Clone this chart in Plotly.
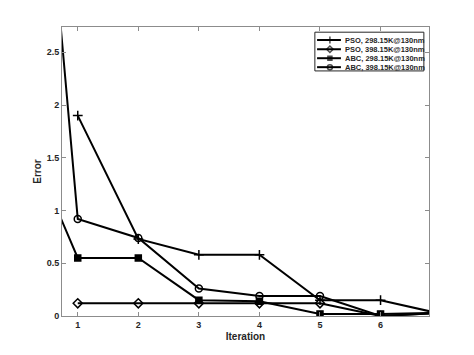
import plotly.graph_objects as go

iterations = [1, 2, 3, 4, 5, 6, 7]
pso_298 = [1.90, 0.73, 0.58, 0.58, 0.15, 0.15, 0.02]
pso_398 = [0.12, 0.12, 0.12, 0.12, 0.12, 0.00, 0.03]
abc_iter = [0, 1, 2, 3, 4, 5, 6, 7]
abc_298 = [1.90, 0.55, 0.55, 0.15, 0.14, 0.02, 0.02, 0.03]
abc_398 = [7.40, 0.92, 0.74, 0.26, 0.19, 0.19, 0.00, 0.03]
series_names = ["PSO, 298.15K@130nm", "PSO, 398.15K@130nm",
                "ABC, 298.15K@130nm", "ABC, 398.15K@130nm"]

styles = [("cross-thin-open", 7), ("diamond-open", 7), ("square", 6), ("circle-open", 7)]
data = [(iterations, pso_298), (iterations, pso_398), (abc_iter, abc_298), (abc_iter, abc_398)]

FONT = "Liberation Sans, Arial"
fig = go.Figure()
for name, (xs, ys), (sym, sz) in zip(series_names, data, styles):
    fig.add_trace(go.Scatter(
        x=xs, y=ys, name=name, mode="lines+markers", showlegend=False,
        line=dict(color="black", width=2),
        marker=dict(symbol=sym, size=sz, color="black",
                    line=dict(color="black", width=1.5)),
    ))

# --- hand-drawn compact legend (MATLAB style) in paper coordinates ---
leg_x0, leg_x1, leg_y0, leg_y1 = 0.689, 0.986, 0.848, 0.982
row_y = [0.955, 0.923, 0.892, 0.861]
line_x0, line_x1, mark_x, text_x = 0.695, 0.760, 0.730, 0.766

fig.add_shape(type="rect", xref="paper", yref="paper", x0=leg_x0, x1=leg_x1,
              y0=leg_y0, y1=leg_y1, line=dict(color="#262626", width=1),
              fillcolor="white", layer="below")
for name, ry in zip(series_names, row_y):
    fig.add_shape(type="line", xref="paper", yref="paper", x0=line_x0, x1=line_x1,
                  y0=ry, y1=ry, line=dict(color="black", width=2))
    fig.add_annotation(x=text_x, y=ry, xref="paper", yref="paper", text=name,
                       showarrow=False, xanchor="left", yanchor="middle",
                       font=dict(family=FONT, size=7.5, color="#262626", weight="bold"))
fig.add_trace(go.Scatter(
    x=[mark_x] * 4, y=row_y, xaxis="x2", yaxis="y2", mode="markers",
    showlegend=False, hoverinfo="skip",
    marker=dict(symbol=[s for s, _ in styles], size=[5, 5, 4, 5], color="black",
                line=dict(color="black", width=1.5)),
))

axis_common = dict(
    showline=True, linecolor="#8c8c8c", linewidth=1, mirror="ticks",
    ticks="inside", ticklen=4, tickcolor="#8c8c8c", showgrid=False,
    zeroline=False,
    tickfont=dict(family=FONT, size=9, color="#262626", weight="bold"),
)

fig.update_layout(
    width=466, height=347,
    margin=dict(l=54, r=45, t=19, b=39, autoexpand=False),
    paper_bgcolor="white", plot_bgcolor="white",
    showlegend=False,
    xaxis=dict(range=[0.74, 6.8], tickvals=[1, 2, 3, 4, 5, 6],
               title=dict(text="Iteration", standoff=4,
                          font=dict(family=FONT, size=10, color="#262626", weight="bold")),
               **axis_common),
    yaxis=dict(range=[0, 2.74], tickvals=[0, 0.5, 1, 1.5, 2, 2.5],
               ticktext=["0", "0.5", "1", "1.5", "2", "2.5"],
               title=dict(text="Error", standoff=3,
                          font=dict(family=FONT, size=10, color="#262626", weight="bold")),
               **axis_common),
    xaxis2=dict(range=[0, 1], overlaying="x", visible=False, fixedrange=True),
    yaxis2=dict(range=[0, 1], overlaying="y", visible=False, fixedrange=True),
)

fig.write_html("out.html")
